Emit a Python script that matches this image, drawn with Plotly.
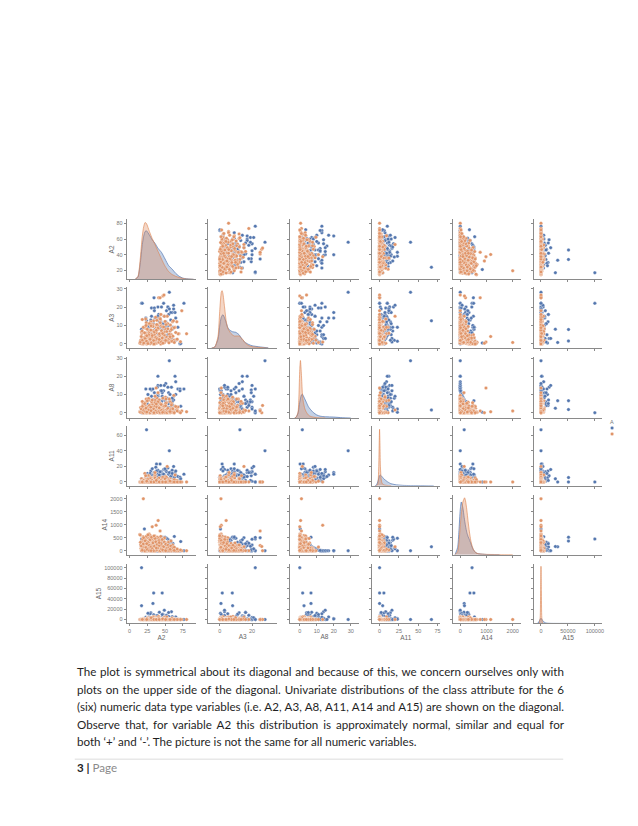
import plotly.graph_objects as go

W, H = 638, 826
VARS = ["A2", "A3", "A8", "A11", "A14", "A15"]
BLUE, ORANGE = "#4c72b0", "#dd8452"
BLUE_DOT, ORANGE_DOT = "#5376ae", "#e09468"

# ---------- class "+" observations ----------
plus_A2 = [24,56,17,34,46,33,17,76.5,64,65,40,68,71,18,34.5,40,54,62,31,38,21,71,
 22,25,27,28,30,31,32,33,34,35, 36,37,38,39,40,41,42,43,44,45,
 46,47,48,49,50,51,52,53,54,55, 57,58,59,60,61,62,63,29,33,36,
 38,41,44,47,49,52,56,26,30,34, 37,40,43,46,48,51,54,58,60,65,
 23,27,31,35,39,42,45,50,55,72]
plus_A3 = [12.5,28,22,1.6,7.8,0.8,8,22,17,14,14,9,0,22,25,20,20,19,19.5,1.5,0.5,0.3,
 3,6,9,1,12,15,7,4,11,19.5, 8,2,14,10,5,13,16,9,3,20,
 6,11,1,15,8,12,18,4,20,10, 7,13,3,17,9,21,2,5,11,14,
 8,16,12,6,3,10,19,0.5,13,7, 4,15,9,1,22,11,5,17,8,2,
 14,10,6,18,3,12,7,9,16,0.2]
plus_A8 = [1.5,28.5,0,1.7,6.6,6.6,2.5,13,20,17,20,13,13,0,1.5,15,3,7,12.5,0.2,0.3,12,
 2,5,1,7,4,9,3,13,6,11, 1,8,5,14,10,3,7,2,15,6,
 9,4,12,1,7,16,5,8,2,11, 10,3,14,6,4,9,1,13,7,2,
 8,5,12,3,15,1,6,10,4,7, 2,9,5,11,1,6,14,3,8,10,
 13,7,2,4,9,6,12,1,5,3.5]
plus_A11 = [67,40,0,0,5.6,0,4,10,12,9,10,7,6,0,0,13,1,2,8,23,0,3,
 3,11,9,2,14,6,17,4,1,12, 8,19,5,10,15,3,7,23,6,13,
 11,2,16,9,4,7,13,1,18,10, 5,12,8,15,3,20,6,11,9,2,
 14,7,4,10,16,1,12,5,8,3, 9,6,13,2,10,15,4,7,11,14,
 1,8,5,12,3,9,6,17,2,4]
plus_A14 = [150,0,450,370,520,150,160,0,0,0,0,0,0,0,500,0,0,0,0,0,840,0,
 460,200,540,120,300,80,400,0,180,40, 520,100,260,0,60,340,140,480,0,220,
 60,320,20,500,160,0,240,100,440,30, 40,380,0,200,280,70,550,10,120,420,
 90,250,0,360,0,480,170,50,310,130, 400,80,220,20,510,190,0,330,110,60,
 0,150,450,290,70,230,10,520,270,350]
plus_A15 = [0,15,100000,51000,51100,31000,26700,1,2000,5000,1000,500,200,0,0,0,0,500,0,2000,0,0,
 0,1200,5000,0,13000,800,0,3000,9000,0, 200,0,7000,0,1500,0,14000,600,0,4000,
 0,10000,300,0,2000,0,8000,1000,0,6000, 500,0,15000,100,0,3500,0,11000,50,0,
 2500,0,700,0,18000,0,400,12000,0,1800, 0,6500,0,9500,0,150,2200,0,5500,0,
 4500,0,1000,0,7500,0,300,0,13500,0]

# ---------- class "-" observations ----------
minus_A2 = [80.25,73.5,69.5,66.5,41,47,48.5,19.5,40.3,37.5,32,14.5,43,53,
 16.2,18.5,19.2,20.4,21.1,22.5,23.3,24.6,25.2,26.7, 17.4,18.9,20.0,20.8,21.7,22.1,23.9,24.2,25.8,27.3,
 28.1,29.4,30.2,31.5,32.7,33.1,34.6,35.2,22.9,19.6, 15.8,17.0,24.9,26.1,27.8,28.6,29.9,30.8,31.9,33.7,
 16.9,18.1,19.9,21.4,23.0,25.5,27.0,28.9,36.4,38.2, 20.7,22.3,24.1,25.9,27.5,29.2,30.5,32.1,33.9,35.6,
 37.2,38.8,40.4,42.1,43.7,45.2,21.6,23.6,26.4,28.3, 30.1,31.2,32.9,34.3,36.0,37.9,39.3,41.2,43.0,44.8,
 19.1,22.8,26.9,29.7,33.3,35.9,38.5,40.8,42.7,46.3, 35.1,37.5,39.8,41.6,43.4,45.8,47.3,48.9,50.6,52.1,
 53.8,55.4,57.2,58.9,60.6,62.3,64.1,36.8,40.1,44.2, 46.7,49.5,51.3,54.7,56.6,59.4,61.7,66.5,68.2,71.6,
 15.2,17.7,19.3,20.2,21.9,23.5,24.4,25.6,26.3,27.6, 28.4,29.1,30.6,31.7,32.4,33.5,34.8,35.8,36.9,38.0,
 39.5,41.0,42.4,44.0,45.5,47.8,49.2,51.8,55.0,58.3,
 15.5,16.6,17.9,18.3,19.5,20.1,21.3,22.0,23.2,24.0, 25.0,26.0,27.1,28.0,29.0,30.0,31.0,32.0,33.0,34.0,
 35.0,36.0,37.0,38.4,39.0,40.0,41.5,42.0,43.2,44.5, 45.0,46.0,47.0,48.0,49.0,50.0,51.0,52.5,53.0,54.0,
 55.5,56.0,57.5,58.0,59.0,60.0,61.0,63.0,65.0,67.0, 18.0,24.3,30.3,34.4,37.7,41.8,46.6,50.8,57.0,62.8]
minus_A3 = [5.5,18,5.5,12,25,26,26.5,0.8,4,1,0.4,0.5,25,15,
 0.5,1.2,2.5,0.8,3.5,1.8,0.2,4.5,1.0,2.8, 5.5,0.4,1.5,3.0,0.7,4.0,2.1,0.0,6.0,1.3,
 0.9,3.3,1.7,0.3,5.0,2.3,0.6,3.8,4.8,1.1, 2.0,0.1,5.8,1.4,3.6,0.5,2.6,4.3,1.9,0.0,
 6.5,3.1,0.8,2.2,1.6,4.1,0.3,5.3,2.9,7.0, 3.5,8.5,5.0,11.0,6.5,4.0,9.5,7.0,12.5,5.5,
 10.0,3.0,8.0,4.5,13.0,6.0,9.0,11.5,7.5,3.8, 12.0,5.2,10.5,6.8,4.2,8.8,7.8,3.2,11.2,9.8,
 6.2,13.5,4.8,10.8,7.2,5.8,12.8,8.2,14.0,9.2, 1.5,6.0,10.0,2.5,13.5,0.5,4.5,15.0,8.0,3.0,
 11.0,1.0,7.0,5.0,12.0,2.0,9.0,14.5,0.8,16.0, 3.5,6.5,10.5,1.8,4.0,8.5,12.5,2.2,5.5,1.2,
 0.3,1.0,0.0,2.2,0.6,3.0,1.5,0.2,4.0,0.9, 2.7,0.1,1.3,3.5,0.5,2.0,5.0,0.7,1.8,0.4,
 3.2,1.1,4.5,0.0,2.4,1.6,0.8,3.8,2.6,1.4,
 1.0,4.0,7.0,2.0,9.0,0.5,6.0,3.0,10.0,1.5, 8.0,0.2,5.0,11.0,2.5,7.5,0.7,4.5,9.5,1.8,
 6.5,0.1,3.5,10.5,2.8,8.5,0.9,5.5,11.5,1.2, 7.2,3.2,0.4,9.2,4.8,12.2,2.2,6.8,1.6,8.2,
 0.6,5.2,10.2,3.4,7.8,1.4,4.2,0.8,6.2,2.6, 13.2,4.4,9.8,0.0,7.4,2.4,5.6,1.9,3.9,8.8]
minus_A8 = [0.5,1,0.5,1.5,1.5,0,4,1,0.5,13.5,0,0.5,1,1.5,
 0.2,1.5,0.0,2.5,0.5,0.1,3.0,1.0,0.3,0.0, 1.8,0.7,0.0,2.0,0.4,4.0,1.2,0.1,0.6,3.5,
 0.0,0.9,2.2,0.3,1.4,0.0,5.0,0.8,1.6,0.2, 2.8,0.5,0.0,1.1,3.2,0.1,4.5,0.4,0.0,1.9,
 0.7,2.4,0.2,0.0,6.0,1.3,0.5,3.8,0.0,1.0, 1.0,5.5,0.0,3.0,7.0,0.5,2.0,4.5,0.2,6.5,
 1.5,8.0,3.5,0.1,5.0,2.5,0.0,7.5,1.2,4.0, 0.3,6.0,2.8,0.0,9.0,1.8,3.8,5.8,0.7,2.2,
 4.8,0.1,7.8,1.0,3.2,6.8,0.4,2.6,5.2,0.0, 0.5,3.0,1.5,7.0,0.0,4.5,2.0,0.2,8.5,5.5,
 1.0,0.0,6.0,2.5,0.1,9.5,3.5,0.5,11.0,1.2, 4.0,0.0,7.5,2.2,0.3,5.0,0.8,1.8,3.2,0.0,
 0.5,1.0,0.0,2.0,0.2,1.5,0.0,3.0,0.8,0.1, 0.0,2.5,0.4,1.2,0.0,1.8,0.6,3.5,0.0,0.3,
 1.0,0.0,2.2,0.7,0.1,1.4,4.0,0.0,0.5,1.6,
 0.3,2.0,0.1,3.5,0.0,1.2,5.0,0.5,2.5,0.0, 6.5,0.2,1.5,4.0,0.0,3.0,0.8,7.0,0.4,2.0,
 0.0,5.5,1.0,3.2,0.2,6.0,0.6,2.8,0.0,4.5, 1.4,0.0,8.0,0.7,3.6,0.1,5.2,1.8,0.0,2.4,
 0.5,7.5,0.0,1.6,4.2,0.3,2.2,0.0,3.4,0.9, 6.2,0.4,1.1,0.0,4.8,2.6,0.2,3.8,0.6,0.0]
minus_A11 = [0,0,0,1,0,0,0,0,0,0,0,0,0,20,
 0,0,1,0,0,2,0,0,3,0, 0,1,0,0,4,0,0,2,0,0, 1,0,0,5,0,0,1,0,3,0, 0,0,2,0,0,6,0,1,0,0, 4,0,0,1,0,0,8,0,2,0,
 0,3,0,1,0,6,0,2,0,9, 0,1,0,4,0,0,11,0,2,0, 5,0,1,0,7,0,0,3,0,1, 0,8,0,2,0,12,0,1,0,5,
 0,2,0,5,0,1,3,0,7,0, 1,0,4,0,2,0,9,0,1,0, 6,0,0,3,0,1,0,2,0,0,
 0,1,0,2,0,0,3,0,0,1, 0,4,0,0,1,0,0,5,0,2, 0,0,1,0,3,0,0,6,0,0,
 0,0,1,0,0,2,0,0,1,0, 0,3,0,0,1,0,0,2,0,0, 1,0,0,0,3,0,1,0,0,2, 0,0,1,0,0,4,0,0,1,0, 0,2,0,0,0,1,0,3,0,0, 0,1,0,0,2,0,0,0,1,0]
minus_A14 = [0,0,0,0,200,160,0,2000,1160,980,920,620,760,150,
 80,200,120,0,300,160,240,40,340,100, 60,380,180,280,0,220,140,320,0,260, 360,100,210,400,120,0,170,60,80,290,
 230,350,0,150,110,310,30,270,190,400, 0,90,250,330,20,130,70,10,210,280,
 140,0,280,80,120,240,0,60,200,0, 100,40,160,260,0,120,30,0,80,220, 0,60,180,20,0,100,50,300,0,40, 120,0,70,200,0,30,90,0,10,150,
 0,120,40,0,80,200,0,20,0,60, 100,160,0,30,220,0,50,0,140,0, 20,90,0,10,70,0,40,0,0,30,
 600,350,540,420,480,380,560,510,320,640, 440,580,400,530,460,340,500,570,430,360, 520,470,410,550,390,450,490,300,330,370,
 320,180,60,450,260,500,0,380,120,560, 40,610,220,0,420,140,520,80,300,0,
 170,470,340,30,240,100,390,200,0,280, 60,430,0,150,330,20,250,90,0,210,
 120,0,70,180,0,40,110,130,0,60, 20,270,0,570,100,310,30,0,50,10]
minus_A15 = [0,0,0,0,0,0,0,0,0,0,0,0,0,0,
 0,1,0,3,0,200,0,0,1000,0, 50,0,0,500,0,1,0,2000,0,0, 0,300,0,0,100,0,4000,0,0,600, 0,0,20,0,1500,0,0,0,800,0, 0,150,0,0,0,3000,0,10,0,0,
 0,0,500,0,0,1200,0,0,0,5000, 0,100,0,0,2500,0,0,0,700,0, 0,0,50,0,0,3500,0,0,0,200, 1800,0,0,0,400,0,0,6000,0,0,
 0,300,0,0,1000,0,0,4500,0,0, 0,100,0,0,2200,0,0,600,0,0, 0,0,1400,0,0,50,0,0,0,0,
 0,0,1,0,800,0,0,0,3000,0, 0,200,0,0,0,5500,0,0,100,0, 0,1600,0,0,0,0,400,0,0,0,
 0,0,0,500,0,0,1000,0,0,0, 2000,0,0,0,300,0,0,0,4000,0, 0,0,700,0,0,0,3000,0,0,100, 0,0,0,1500,0,0,0,5000,0,0, 0,200,0,0,0,2500,0,0,600,0, 0,0,3500,0,0,0,1200,0,0,0]

plus_cols = [plus_A2, plus_A3, plus_A8, plus_A11, plus_A14, plus_A15]
minus_cols = [minus_A2, minus_A3, minus_A8, minus_A11, minus_A14, minus_A15]

# ---------- diagonal density curves (share of panel height) ----------
kde_x_plus = {
 "A2": [8,12,15,18,20,22,24,28,32,36,40,45,50,55,60,65,70,75,80,90],
 "A3": [-5,-3,-1,0,1,2,3,4,5,6,8,10,12,14,16,18,20,25,30],
 "A8": [-3,-2,-1,0,1,1.6,2,3,4,5,6,8,10,12,15,20,25,30],
 "A11": [-6,-4,-2,0,1,2,4,6,8,10,14,20,30,40,60,70],
 "A14": [-200,-100,-50,0,40,100,150,200,250,300,350,400,450,500,600,700,1000,1500],
 "A15": [-8000,-5000,-3000,-1000,0,1000,3000,5000,8000,12000,20000,50000,100000],
}
kde_y_plus = {
 "A2": [0,.04,.25,.58,.72,.80,.81,.74,.66,.60,.52,.45,.34,.23,.17,.10,.05,.02,.01,0],
 "A3": [0,.02,.15,.36,.51,.55,.50,.42,.34,.30,.27,.26,.22,.14,.09,.06,.04,.02,.005],
 "A8": [0,.02,.08,.26,.38,.39,.37,.31,.25,.19,.15,.09,.05,.03,.02,.015,.005,0],
 "A11": [0,.015,.08,.17,.18,.17,.14,.11,.09,.07,.04,.02,.008,.004,.002,0],
 "A14": [0,.12,.40,.75,.88,.78,.62,.48,.37,.30,.25,.19,.13,.08,.03,.015,.003,0],
 "A15": [0,.01,.045,.08,.085,.08,.05,.03,.012,.005,.002,.001,0],
}
kde_x_minus = {
 "A2": [8,12,15,18,20,22,24,28,32,36,40,45,50,55,60,65,70,75,80,90],
 "A3": [-5,-3,-1,0,1,1.5,2,3,4,5,7,9,11,12,14,16,18,20,25,30],
 "A8": [-3,-2,-1,-.5,0,.4,1,1.5,2,3,4,5,6,8,10,15],
 "A11": [-5,-3,-2,-1,-.5,0,.5,1,2,3,4,6,10,15],
 "A14": [-200,-100,-50,0,50,100,165,200,250,300,350,400,450,500,600,700,1000,1500,2000],
 "A15": [-3000,-1500,-700,0,700,1500,3000,5000],
}
kde_y_minus = {
 "A2": [0,.05,.32,.72,.88,.95,.93,.80,.68,.58,.47,.34,.22,.13,.08,.05,.03,.015,.005,0],
 "A3": [0,.02,.20,.60,.92,.945,.90,.68,.45,.33,.24,.20,.20,.20,.15,.08,.04,.025,.01,0],
 "A8": [0,.02,.10,.35,.80,.945,.70,.42,.28,.15,.09,.05,.03,.015,.005,0],
 "A11": [0,.01,.05,.35,.70,.945,.70,.35,.12,.05,.03,.015,.005,0],
 "A14": [0,.05,.20,.48,.72,.88,.95,.90,.75,.55,.38,.24,.15,.09,.03,.015,.005,.002,0],
 "A15": [0,.10,.55,.955,.55,.10,.005,0],
}

# ---------- key for the two classes ----------
key_names = ["+", "-"]
key_rows = [1, 0]

# ---------- axis ticks ----------
x_ticks = {"A2":[0,25,50,75],"A3":[0,20],"A8":[0,10,20,30],"A11":[0,25,50,75],"A14":[0,1000,2000],"A15":[0,50000,100000]}
y_ticks = {"A2":[20,40,60,80],"A3":[0,10,20,30],"A8":[0,10,20,30],"A11":[0,20,40,60],"A14":[0,500,1000,1500,2000],"A15":[0,20000,40000,60000,80000,100000]}
x_ranges = {"A2":[-4,94],"A3":[-7,35.5],"A8":[-5.7,34.8],"A11":[-10,77.6],"A14":[-293,2330],"A15":[-12400,113500]}
y_ranges = {"A2":[8.6,85],"A3":[-2.3,30.7],"A8":[-2.9,30.5],"A11":[-5,72],"A14":[-154,2154],"A15":[-7700,107700]}

# panel edges in page pixels
col_px = [(127,197),(209,278),(291,360),(373,441),(454,523),(536,604)]
row_px = [(218,278),(286,347),(356,417),(425,485),(494,554),(563,623)]

body_lines = [
 "The plot is symmetrical about its diagonal and because of this, we concern ourselves only with",
 "plots on the upper side of the diagonal. Univariate distributions of the class attribute for the 6",
 "(six) numeric data type variables (i.e. A2, A3, A8, A11, A14 and A15) are shown on the diagonal.",
 "Observe that, for variable A2 this distribution is approximately normal, similar and equal for",
 "both \u2018+\u2019 and \u2018-\u2019. The picture is not the same for all numeric variables.",
]
body_y = [671, 689, 706, 724, 741]

fig = go.Figure()
layout = {}
axis_line = "#8a8a8a"
tick_font = dict(family="Liberation Sans, Arial, sans-serif", size=5.5, color="#777777")
title_font = dict(family="Liberation Sans, Arial, sans-serif", size=6.5, color="#666666")

for r, yv in enumerate(VARS):
    for c, xv in enumerate(VARS):
        k = r * 6 + c + 1
        xdom = [col_px[c][0] / W, col_px[c][1] / W]
        ydom = [1 - row_px[r][1] / H, 1 - row_px[r][0] / H]
        common = dict(showgrid=False, zeroline=False, showline=True, linecolor=axis_line, linewidth=1,
                      ticks="outside", ticklen=2, tickwidth=0.8, tickcolor=axis_line, tickfont=tick_font,
                      tickformat="d")
        layout[f"xaxis{k}"] = dict(domain=xdom, range=x_ranges[xv], anchor=f"y{k}", tickvals=x_ticks[xv],
                                   showticklabels=(r == 5),
                                   title=dict(text=xv if r == 5 else "", font=title_font, standoff=1), **common)
        layout[f"yaxis{k}"] = dict(domain=ydom, range=y_ranges[yv], anchor=f"x{k}", tickvals=y_ticks[yv],
                                   showticklabels=(c == 0),
                                   title=dict(text=yv if c == 0 else "", font=title_font, standoff=1), **common)
        if r == c:
            ov = 37 + r
            layout[f"yaxis{ov}"] = dict(domain=ydom, range=[0, 1], anchor=f"x{k}", overlaying=f"y{k}", visible=False)
            # an empty trace so the panel's own axes are created beneath the overlay
            fig.add_trace(go.Scatter(x=[None], y=[None], xaxis=f"x{k}", yaxis=f"y{k}", mode="markers",
                                     showlegend=False, hoverinfo="skip"))
            for xs, ys, col, fc in [(kde_x_plus[xv], kde_y_plus[xv], "rgba(76,114,176,0.75)", "rgba(76,114,176,0.33)"),
                                    (kde_x_minus[xv], kde_y_minus[xv], "rgba(221,132,82,0.7)", "rgba(221,132,82,0.33)")]:
                fig.add_trace(go.Scatter(x=xs, y=ys, xaxis=f"x{k}", yaxis=f"y{ov}", mode="lines", fill="tozeroy",
                                         fillcolor=fc, line=dict(color=col, width=0.9, shape="spline", smoothing=0.6),
                                         showlegend=False, hoverinfo="skip"))
        else:
            for cols, col, name in [(plus_cols, BLUE_DOT, "+"), (minus_cols, ORANGE_DOT, "-")]:
                fig.add_trace(go.Scatter(x=cols[c], y=cols[r], xaxis=f"x{k}", yaxis=f"y{k}", mode="markers",
                                         name=name, showlegend=False,
                                         marker=dict(size=3.5, color=col, line=dict(color="white", width=0.35))))

# the small class key to the right of the grid (a legend item cannot be packed this tightly)
layout["xaxis43"] = dict(domain=[608 / W, 620 / W], range=[-1, 1], anchor="y43", visible=False)
layout["yaxis43"] = dict(domain=[1 - 436 / H, 1 - 424 / H], range=[-0.5, 1.5], anchor="x43", visible=False)
fig.add_trace(go.Scatter(x=[0, 0], y=key_rows, text=key_names, xaxis="x43", yaxis="y43", mode="markers",
                         showlegend=False, hoverinfo="text",
                         marker=dict(size=3.5, color=[BLUE_DOT, ORANGE_DOT], line=dict(color="white", width=0.35))))

ann = []
for line, y in zip(body_lines, body_y):
    ann.append(dict(text=line, xref="paper", yref="paper", x=75 / W, y=1 - y / H, xanchor="left", yanchor="middle",
                    align="left", showarrow=False, font=dict(family="Lato, Carlito, sans-serif", size=11.6, color="#1f1f1f")))
ann.append(dict(text='<b>3 |</b> <span style="color:#8a8a8a">Page</span>', xref="paper", yref="paper",
                x=75 / W, y=1 - 767.5 / H, xanchor="left", yanchor="middle", showarrow=False,
                font=dict(family="Lato, Carlito, sans-serif", size=11.6, color="#1f1f1f")))
ann.append(dict(text="A", xref="paper", yref="paper", x=614 / W, y=1 - 421 / H, xanchor="center", yanchor="middle",
                showarrow=False, font=dict(family="Liberation Sans, Arial, sans-serif", size=5.5, color="#777777")))

layout.update(
    width=W, height=H, autosize=False,
    margin=dict(l=0, r=0, t=0, b=0),
    paper_bgcolor="white", plot_bgcolor="white",
    showlegend=False,
    annotations=ann,
    shapes=[dict(type="line", xref="paper", yref="paper", x0=75 / W, x1=565 / W, y0=1 - 759 / H, y1=1 - 759 / H,
                 line=dict(color="#dddddd", width=1))],
)
fig.update_layout(**layout)

page_fix = """
document.body.style.margin = '0';
document.querySelectorAll('.annotation-text').forEach(function (t) {
  var len = t.getComputedTextLength(), gaps = (t.textContent.match(/ /g) || []).length;
  if (len > 400 && len < 487 && gaps) { t.setAttribute('word-spacing', (487 - len) / gaps); }
});
"""
fig.write_html("out.html", post_script=page_fix, config={"displayModeBar": False})
